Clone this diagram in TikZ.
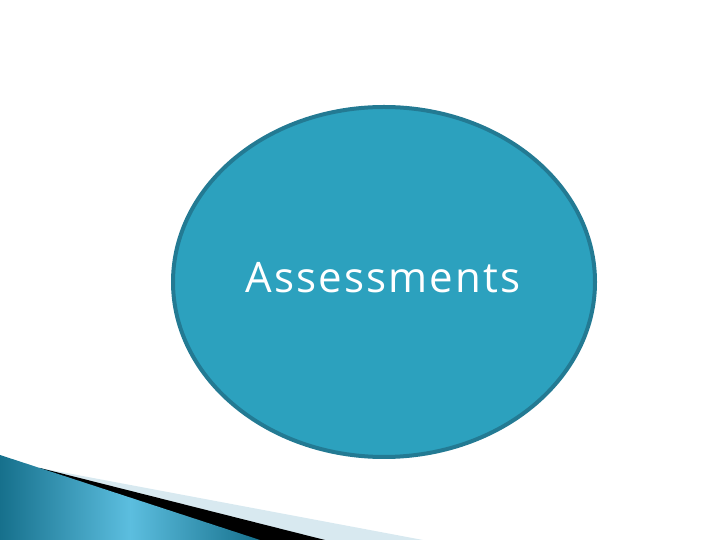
\documentclass[tikz,border=0pt]{standalone}
\usepackage{fontspec}
\setmainfont{Open Sans}
\usepackage{tikz}
\usetikzlibrary{shapes,positioning}
\definecolor{tealfill}{HTML}{2CA1BE}
\definecolor{tealline}{HTML}{237A93}
\definecolor{palestrip}{HTML}{D8E9F0}
\definecolor{darkteal}{HTML}{16708C}
\definecolor{lightteal}{HTML}{5CBEDF}

\begin{document}
\begin{tikzpicture}[x=1pt,y=1pt,% one unit is one pixel of the slide
			every node/.style={
				align=center		% so that "\\" works inside nodes
			},
			bubble/.style={ellipse,draw=tealline,line width=4pt,fill=tealfill,
				minimum width=422pt,minimum height=350pt,inner sep=0pt}
		]
		\useasboundingbox (0,0) rectangle (720,540);
		% corner decoration
		\fill[palestrip] (40,72) -- (423,0) -- (0,0) -- cycle;
		\fill[black] (40,72) -- (325,0) -- (0,0) -- cycle;
		\shade[left color=darkteal,right color=darkteal,middle color=lightteal] (0,85) -- (260,0) -- (0,0) -- cycle;
		% the bubble
		\node[bubble](A1) at (384,258){};
		\node[text=white,font=\fontsize{42}{50}\selectfont\addfontfeatures{LetterSpace=5}](T1) at (383,262){Assessments};
	\end{tikzpicture}
\end{document}
